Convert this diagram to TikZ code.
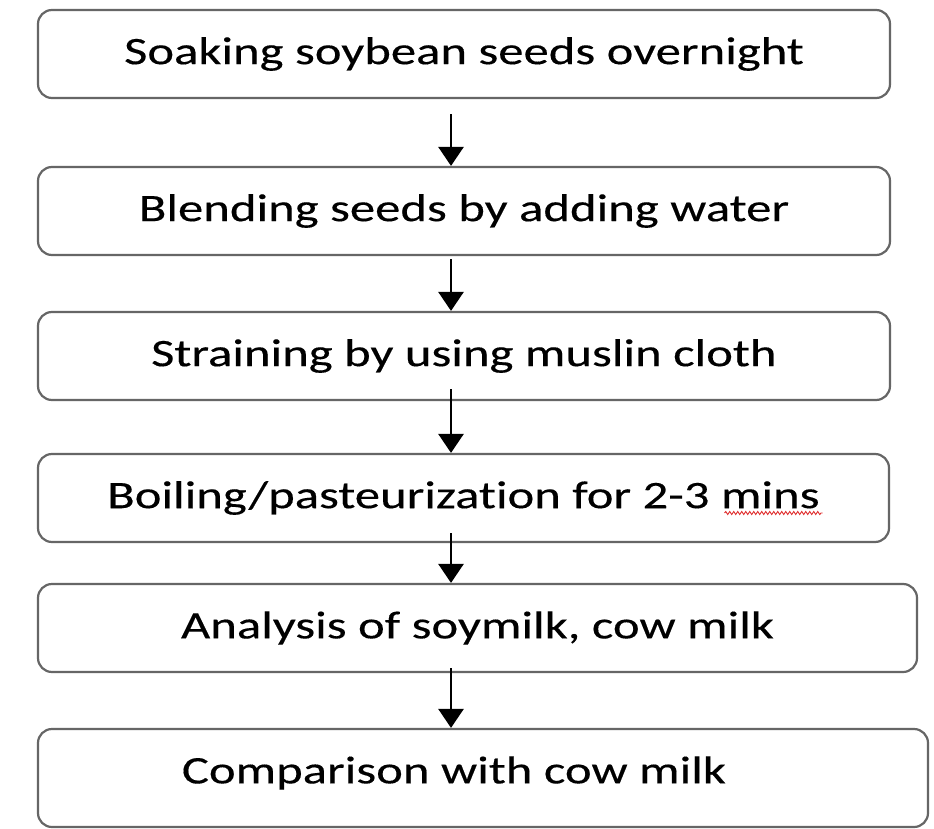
\documentclass[tikz,border=0pt]{standalone}
\usepackage{fontspec}
\setmainfont{Carlito}[FakeStretch=1.3,FakeBold=0.3,Ligatures={NoCommon}]
\usepackage{tikz}
\usetikzlibrary{calc,arrows.meta,decorations.pathmorphing}
\definecolor{bg}{HTML}{FFFFFF}
\definecolor{edge}{HTML}{666666}
\definecolor{ink}{HTML}{000000}
\definecolor{squiggle}{HTML}{E03030}
\tikzset{
  stepbox/.style={draw=edge, line width=2.2pt, rounded corners=14pt, minimum height=88pt, inner sep=0pt, text=ink, font=\fontsize{39}{46}\selectfont},
  flow/.style={draw=ink, line width=2.7pt, -{Triangle[width=25pt,length=19pt]}},
  lab/.style={text=ink, font=\fontsize{39}{46}\selectfont},
  spell/.style={draw=squiggle, line width=0.9pt, decorate, decoration={snake, amplitude=1.5pt, segment length=4pt}},
}

\begin{document}
\begin{tikzpicture}[x=1pt,y=-1pt]
  \fill[bg] (0,0) rectangle (934,829);
  \useasboundingbox (0,0) rectangle (934,829);
  \coordinate (spine) at (451,0);

  \node[stepbox, minimum width=852pt] (soak) at (464,54) {Soaking soybean seeds overnight};
  \node[stepbox, minimum width=852pt] (blend) at (464,211) {Blending seeds by adding water};
  \node[stepbox, minimum width=852pt] (strain) at (464,356) {Straining by using muslin cloth};
  \node[stepbox, minimum width=851pt] (boil) at (463.5,498) {Boiling/pasteurization for 2-3 mins};
  \node[stepbox, minimum width=879pt] (analyse) at (477.5,628) {Analysis of soymilk, cow milk};
  \node[stepbox, minimum width=890pt, minimum height=98pt,
        label={[lab,xshift=-29pt,yshift=5pt]center:Comparison with cow milk}] (compare) at (483,778) {};

  \draw[flow] (soak.south -| spine) ++(0,15) -- (blend.north -| spine);
  \draw[flow] (blend.south -| spine) ++(0,3) -- (strain.north -| spine);
  \draw[flow] (strain.south -| spine) ++(0,-12) -- (boil.north -| spine);
  \draw[flow] (boil.south -| spine) ++(0,-10) -- (analyse.north -| spine);
  \draw[flow] (analyse.south -| spine) ++(0,-5) -- (compare.north -| spine);

  % spell-check mark under "mins"
  \draw[spell] ($(boil.center)+(261,15)$) -- ($(boil.center)+(359,15)$);
\end{tikzpicture}
\end{document}
